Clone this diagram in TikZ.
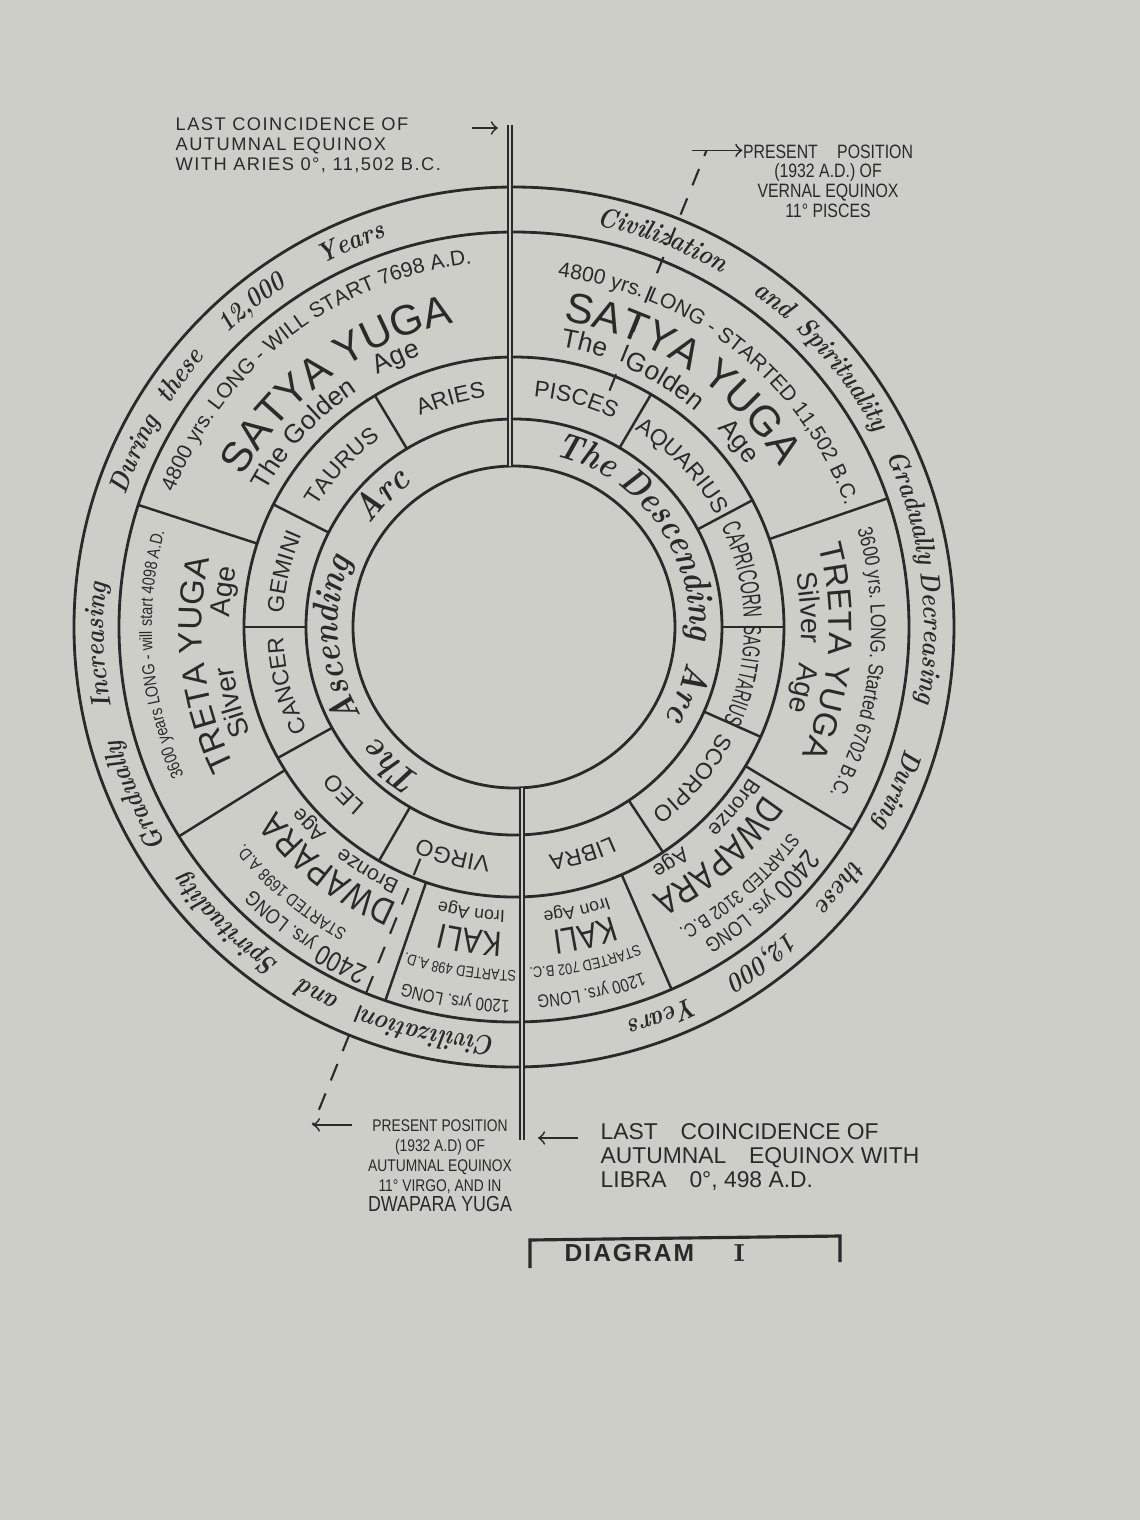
\documentclass[tikz,border=0pt]{standalone}
\usepackage{fontspec}
\newfontfamily\lettering{Liberation Sans}
\newfontfamily\narrowlettering{Liberation Sans}[FakeStretch=0.82]
\newfontfamily\tightlettering{Liberation Sans}[FakeStretch=0.6]
\newfontfamily\notelettering{Liberation Sans}[LetterSpace=8]
\newfontfamily\scripthand{lmroman10-bolditalic.otf}[FakeStretch=0.85]
\usetikzlibrary{decorations.text}
\definecolor{paper}{RGB}{206,206,201}
\definecolor{ink}{RGB}{42,42,42}
\newcommand{\zodiacfont}{\fontsize{6.5}{6.5}\lettering}
\newcommand{\agefont}{\fontsize{7.5}{7.5}\lettering}
\newcommand{\notefont}{\fontsize{6}{6}\lettering}
\newcommand{\handfont}{\fontsize{7.8}{7.8}\scripthand}
\newcommand{\arcfont}{\fontsize{10.5}{10.5}\scripthand}
% curved text, read clockwise: radius, middle angle, font, text
\newcommand{\arctext}[4]{\path[decorate,decoration={text along path,text align=center,text color=ink,text={|#3|#4}}] ({#2+70}:#1) arc[start angle={#2+70},end angle={#2-70},radius=#1];}

\begin{document}
\begin{tikzpicture}[color=ink,
		pointer/.style={->,line width=0.5pt},
		equinox/.style={line width=0.6pt,dash pattern=on 5pt off 4pt},
		axisline/.style={double=paper,double distance=0.8pt,line width=0.45pt},
		notelabel/.style={inner sep=0pt}]
	\useasboundingbox (-5.14,-8.93) rectangle (6.26,6.27);
	\fill[paper] (-5.14,-8.93) rectangle (6.26,6.27);

		%Rings
		\draw[line width=0.8pt] (0,0) circle (1.61);
		\draw[line width=0.8pt] (0,0) circle (2.08);
		\draw[line width=0.8pt] (0,0) circle (2.70);
		\draw[line width=0.8pt] (0,0) circle (3.95);
		\draw[line width=0.8pt] (0,0) circle (4.40);

		%Yuga borders
		\draw[line width=0.7pt] (162:2.70) -- (162:3.95);
		\draw[line width=0.7pt] (212:2.70) -- (212:3.95);
		\draw[line width=0.7pt] (251:2.70) -- (251:3.95);
		\draw[line width=0.7pt] (19:2.70) -- (19:3.95);
		\draw[line width=0.7pt] (-31:2.70) -- (-31:3.95);
		\draw[line width=0.7pt] (-66.5:2.70) -- (-66.5:3.95);

		%Zodiac borders
		\draw[line width=0.7pt] (121:2.08) -- (121:2.70);
		\draw[line width=0.7pt] (153:2.08) -- (153:2.70);
		\draw[line width=0.7pt] (180:2.08) -- (180:2.70);
		\draw[line width=0.7pt] (209:2.08) -- (209:2.70);
		\draw[line width=0.7pt] (240:2.08) -- (240:2.70);
		\draw[line width=0.7pt] (-56.5:2.08) -- (-56.5:2.70);
		\draw[line width=0.7pt] (-24:2.08) -- (-24:2.70);
		\draw[line width=0.7pt] (0:2.08) -- (0:2.70);
		\draw[line width=0.7pt] (28:2.08) -- (28:2.70);
		\draw[line width=0.7pt] (59.5:2.08) -- (59.5:2.70);

		%Equinox axes
		\coordinate (ariesTop) at (-0.04,5.02);
		\coordinate (ariesMark) at (-0.04,4.99);
		\coordinate (libraEnd) at (0.08,-5.13);
		\coordinate (libraMark) at (0.08,-5.11);
		\draw[axisline] (ariesTop) -- (-0.04,1.61);
		\draw[axisline] (0.08,-1.61) -- (libraEnd);
		\coordinate (vernalEnd) at (68:5.14);
		\coordinate (virgoEnd) at (248:5.37);
		\draw[equinox] (68:2.55) -- (vernalEnd);
		\draw[equinox] (248:2.50) -- (virgoEnd);

		%Zodiac
		\arctext{2.31}{74.75}{\zodiacfont}{PISCES}
		\arctext{2.31}{105.5}{\zodiacfont}{ARIES}
		\arctext{2.31}{137}{\zodiacfont}{TAURUS}
		\arctext{2.31}{166.5}{\zodiacfont}{GEMINI}
		\arctext{2.31}{194.5}{\zodiacfont}{CANCER}
		\arctext{2.31}{224.5}{\zodiacfont}{LEO}
		\arctext{2.31}{255}{\zodiacfont}{VIRGO}
		\arctext{2.31}{286.75}{\zodiacfont}{LIBRA}
		\arctext{2.31}{319.75}{\zodiacfont}{SCORPIO}
		\arctext{2.30}{348}{\fontsize{7}{7}\tightlettering}{SAGITTARIUS}
		\arctext{2.30}{14}{\fontsize{7.5}{7.5}\tightlettering}{CAPRICORN}
		\arctext{2.31}{43.75}{\zodiacfont}{AQUARIUS}

		%Arcs
		\arctext{1.76}{229}{\arcfont}{The}
		\arctext{1.76}{184}{\arcfont}{Ascending}
		\arctext{1.76}{135}{\arcfont}{Arc}
		\arctext{1.76}{67}{\arcfont}{The}
		\arctext{1.76}{25}{\arcfont}{Descending}
		\arctext{1.76}{-21}{\arcfont}{Arc}

		%Satya
		\arctext{3.66}{127.5}{\notefont}{4800 yrs. LONG - WILL START 7698 A.D.}
		\arctext{3.10}{126}{\fontsize{12}{12}\lettering}{SATYA YUGA}
		\arctext{2.83}{137.4}{\agefont}{The Golden}
		\arctext{2.87}{113.6}{\agefont}{Age}
		\arctext{3.53}{51.5}{\notefont}{4800 yrs. LONG - STARTED 11,502 B.C.}
		\arctext{3.10}{56}{\fontsize{12}{12}\lettering}{SATYA YUGA}
		\arctext{2.84}{76}{\agefont}{The}
		\arctext{2.82}{58.5}{\agefont}{Golden}
		\arctext{2.84}{39.5}{\agefont}{Age}

		%Treta
		\arctext{3.62}{184.5}{\fontsize{5}{5}\narrowlettering}{3600 years LONG - will start 4098 A.D.}
		\arctext{3.12}{187}{\fontsize{9.5}{9.5}\lettering}{TRETA YUGA}
		\arctext{2.84}{195}{\fontsize{8}{8}\lettering}{Silver}
		\arctext{2.84}{173}{\fontsize{8}{8}\lettering}{Age}
		\arctext{3.57}{-6}{\fontsize{6}{6}\narrowlettering}{3600 yrs. LONG. Started 6702 B.C.}
		\arctext{3.15}{-4.5}{\fontsize{9.5}{9.5}\lettering}{TRETA YUGA}
		\arctext{2.87}{3.8}{\fontsize{8}{8}\lettering}{Silver}
		\arctext{2.87}{-12}{\fontsize{8}{8}\lettering}{Age}

		%Dwapara
		\arctext{3.70}{236}{\fontsize{8}{8}\narrowlettering}{2400 |\fontsize{6}{6}\narrowlettering|yrs. LONG}
		\arctext{3.46}{230}{\fontsize{5}{5}\narrowlettering}{STARTED 1698 A.D.}
		\arctext{3.00}{232.5}{\fontsize{10.5}{10.5}\narrowlettering}{DWAPARA}
		\arctext{2.79}{239}{\fontsize{6}{6}\lettering}{Bronze}
		\arctext{2.79}{224}{\fontsize{6}{6}\lettering}{Age}
		\arctext{3.67}{312}{\fontsize{8}{8}\narrowlettering}{2400 |\fontsize{6}{6}\narrowlettering|yrs. LONG}
		\arctext{3.44}{311}{\fontsize{5.5}{5.5}\narrowlettering}{STARTED 3102 B.C.}
		\arctext{3.01}{311.7}{\fontsize{10.5}{10.5}\narrowlettering}{DWAPARA}
		\arctext{2.79}{320.6}{\fontsize{6}{6}\lettering}{Bronze}
		\arctext{2.77}{303.6}{\fontsize{6}{6}\lettering}{Age}

		%Kali
		\arctext{3.73}{261}{\fontsize{5.2}{5.2}\narrowlettering}{1200 yrs. LONG}
		\arctext{3.43}{261}{\fontsize{4.4}{4.4}\narrowlettering}{STARTED 498 A.D.}
		\arctext{3.05}{262}{\fontsize{10}{10}\narrowlettering}{KALI}
		\arctext{2.84}{261.5}{\fontsize{5}{5}\lettering}{Iron Age}
		\arctext{3.69}{282}{\fontsize{5.2}{5.2}\narrowlettering}{1200 yrs. LONG}
		\arctext{3.41}{282}{\fontsize{4.4}{4.4}\narrowlettering}{STARTED 702 B.C.}
		\arctext{3.06}{283}{\fontsize{10}{10}\narrowlettering}{KALI}
		\arctext{2.86}{282.5}{\fontsize{5}{5}\lettering}{Iron Age}

		%Outer band
		\arctext{4.10}{258}{\handfont}{Civilization}
		\arctext{4.10}{242}{\handfont}{and}
		\arctext{4.10}{226}{\handfont}{Spirituality}
		\arctext{4.10}{204}{\handfont}{Gradually}
		\arctext{4.10}{182.5}{\handfont}{Increasing}
		\arctext{4.10}{155.5}{\handfont}{During}
		\arctext{4.10}{143}{\handfont}{these}
		\arctext{4.10}{129}{\handfont}{12,000}
		\arctext{4.10}{113}{\handfont}{Years}
		\arctext{4.10}{69}{\handfont}{Civilization}
		\arctext{4.10}{51.5}{\handfont}{and}
		\arctext{4.10}{37.5}{\handfont}{Spirituality}
		\arctext{4.10}{16.7}{\handfont}{Gradually}
		\arctext{4.10}{-1.5}{\handfont}{Decreasing}
		\arctext{4.10}{-23}{\handfont}{During}
		\arctext{4.10}{-38.6}{\handfont}{these}
		\arctext{4.10}{-53.4}{\handfont}{12,000}
		\arctext{4.10}{-69}{\handfont}{Years}

	%Notes
	\node[notelabel,anchor=west,align=left,font={\fontsize{5.2}{5.7}\notelettering}] (ariesNote) at (-3.39,4.82) {LAST COINCIDENCE OF\\AUTUMNAL EQUINOX\\WITH ARIES 0°, 11,502 B.C.};
	\draw[pointer,shorten <=3mm,shorten >=1.2mm] (ariesMark -| ariesNote.east) -- (ariesMark);

	\node[notelabel,align=center,font={\fontsize{5.5}{5.6}\narrowlettering}] (piscesNote) at (3.14,4.46) {PRESENT\quad POSITION\\(1932 A.D.) OF\\VERNAL EQUINOX\\11° PISCES};
	\draw[pointer] ([xshift=-1.5mm]vernalEnd) -- (vernalEnd -| piscesNote.west);

	\node[notelabel,align=center,font={\fontsize{4.8}{5.7}\narrowlettering}] (virgoNote) at (-0.74,-5.39) {PRESENT POSITION\\(1932 A.D) OF\\AUTUMNAL EQUINOX\\11° VIRGO, AND IN\\{\fontsize{6.2}{6.2}\selectfont DWAPARA YUGA}};
	\draw[pointer,shorten <=1.5mm] (virgoEnd -| virgoNote.west) -- (virgoEnd);

	\node[notelabel,anchor=west,align=left,font={\fontsize{6.5}{6.8}\lettering}] (libraNote) at (0.86,-5.30) {LAST\quad COINCIDENCE OF\\AUTUMNAL\quad EQUINOX WITH\\LIBRA\quad 0°, 498 A.D.};
	\draw[pointer,shorten <=2.2mm,shorten >=1.6mm] (libraMark -| libraNote.west) -- (libraMark);

	%Diagram caption
	\node[font={\fontsize{7}{7}\notelettering\bfseries}] (diagram) at (1.41,-6.26) {DIAGRAM\hspace{1.6em}{\rmfamily I}};
	\draw[line width=0.9pt] (0.16,-6.41) -- (0.16,-6.13) -- (3.26,-6.09) -- (3.26,-6.35);
\end{tikzpicture}
\end{document}
